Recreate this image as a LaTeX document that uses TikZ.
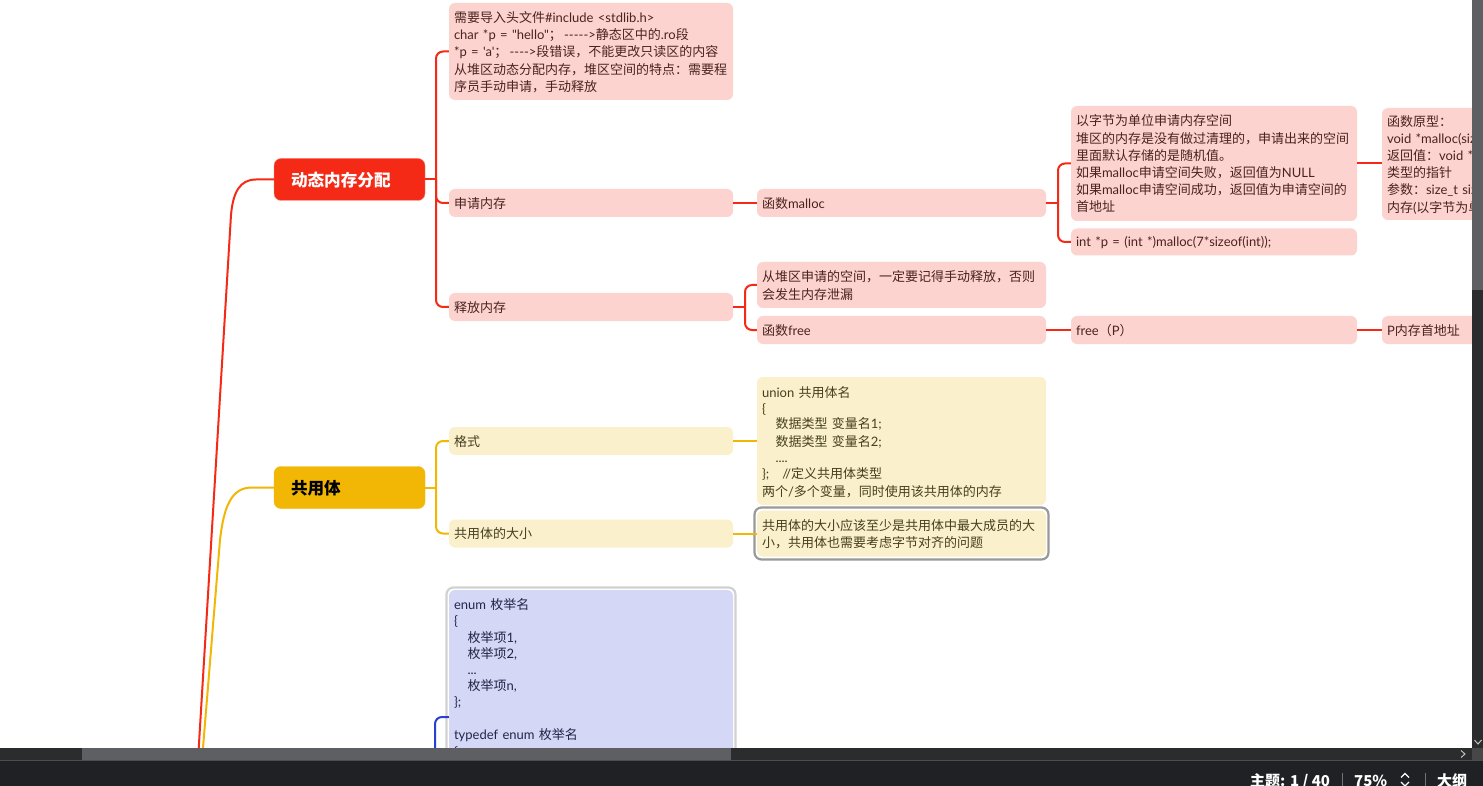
\documentclass[tikz,border=0pt]{standalone}
\usepackage{fontspec}
\newfontfamily\cjk{Noto Sans CJK SC}
\newfontfamily\latn{Lato}
% Chinese runs switch to the CJK family by themselves
\XeTeXinterchartokenstate=1
\newXeTeXintercharclass\hanclass
\newcount\chr
\chr="3000
\loop \XeTeXcharclass\chr=\hanclass \advance\chr 1 \ifnum\chr<"A000 \repeat
\chr="FF00
\loop \XeTeXcharclass\chr=\hanclass \advance\chr 1 \ifnum\chr<"FFF0 \repeat
\XeTeXinterchartoks 0 \hanclass={\cjk}
\XeTeXinterchartoks \hanclass 0={\latn}
\XeTeXinterchartoks 4095 \hanclass={\cjk}
\XeTeXinterchartoks 4095 0={\latn}
\newcommand\statusfont{\XeTeXinterchartokenstate=0\relax\cjk\bfseries\fontsize{15}{18}\selectfont}
\definecolor{memred}{HTML}{F42A16}
\definecolor{memredbg}{HTML}{FCD3CF}
\definecolor{uniamber}{HTML}{F2B705}
\definecolor{uniamberbg}{HTML}{FAF0CC}
\definecolor{enumblue}{HTML}{2A3FD0}
\definecolor{enumbluebg}{HTML}{D4D7F5}
\definecolor{memtext}{HTML}{4A2320}
\definecolor{unitext}{HTML}{46401F}
\definecolor{enumtext}{HTML}{22264A}
\definecolor{panel}{HTML}{202124}
\definecolor{track}{HTML}{2B2C2E}
\definecolor{thumb}{HTML}{5D5F63}
\tikzset{
  leaf/.style={rounded corners=6pt, inner xsep=5pt, inner ysep=0pt, align=left,
    font=\latn\fontsize{13}{17.2}\selectfont, execute at begin node={\rule{0pt}{12pt}}},
  memleaf/.style={leaf, fill=memredbg, text=memtext},
  unileaf/.style={leaf, fill=uniamberbg, text=unitext},
  enumleaf/.style={leaf, fill=enumbluebg, text=enumtext},
  wone/.style={text width=274pt},
  wtwo/.style={text width=279pt},
  wthree/.style={text width=276pt},
  wfour/.style={text width=190pt},
  topic/.style={rounded corners=7pt, minimum width=151pt, minimum height=42pt, inner xsep=17pt,
    text width=117pt, align=left, font=\cjk\bfseries\fontsize{16.6}{20}\selectfont,
    execute at begin node={\rule{0pt}{15.5pt}}},
  redline/.style={draw=memred, line width=2pt},
  amberline/.style={draw=uniamber, line width=2pt},
  blueline/.style={draw=enumblue, line width=2pt},
  status/.style={text=white, inner sep=0pt, font=\statusfont},
}
\begin{document}
\begin{tikzpicture}[x=1pt,y=-1pt]
\clip (0,0) rectangle (1483,786);
\fill[white] (0,0) rectangle (1483,786);

% topics
\node[topic, fill=memred, draw=memred!55!white, text=white] (dyn) at (349.5,179.5) {动态内存分配};
\node[topic, fill=uniamber, draw=uniamber, text=black] (uni) at (349.5,487.5) {共用体};

% dynamic memory
\node[memleaf, wone, minimum height=97pt] (intro) at (591,51.5) {需要导入头文件\#include <stdlib.h>\\
char *p = "hello"；\,----->静态区中的.ro段\\
{*}p = 'a'；\,---->段错误，不能更改只读区的内容\\
从堆区动态分配内存，堆区空间的特点：需要程\\
序员手动申请，手动释放};
\node[memleaf, wone, minimum height=28pt] (req) at (591,203) {申请内存};
\node[memleaf, wone, minimum height=28pt] (rel) at (591,307) {释放内存};
\node[memleaf, wtwo, minimum height=28pt] (mall) at (901.5,203) {函数malloc};
\node[memleaf, wthree, minimum height=115pt] (mnote) at (1214,163.5) {以字节为单位申请内存空间\\
堆区的内存是没有做过清理的，申请出来的空间\\
里面默认存储的是随机值。\\
如果malloc申请空间失败，返回值为NULL\\
如果malloc申请空间成功，返回值为申请空间的\\
首地址};
\node[memleaf, wthree, minimum height=27pt] (mcode) at (1214,242) {int *p = (int *)malloc(7*sizeof(int));};
\node[memleaf, wfour, minimum height=112pt] (proto) at (1482,164) {函数原型：\\
void *malloc(size\\
返回值：void *\\
类型的指针\\
参数：size\_t size\\
内存(以字节为单};
\node[memleaf, wtwo, minimum height=46pt] (warn) at (901.5,285) {从堆区申请的空间，一定要记得手动释放，否则\\
会发生内存泄漏};
\node[memleaf, wtwo, minimum height=28pt] (ffree) at (901.5,330) {函数free};
\node[memleaf, wthree, minimum height=28pt] (fcall) at (1214,330) {free（P）};
\node[memleaf, wfour, minimum height=28pt] (farg) at (1482,330) {P内存首地址};

% union
\node[unileaf, wone, minimum height=28pt] (fmt) at (591,441) {格式};
\node[unileaf, wone, minimum height=28pt] (size) at (591,533.5) {共用体的大小};
\node[unileaf, wtwo, minimum height=128pt] (ucode) at (901.5,441) {union 共用体名\\[-1.7pt]
\{\\[-1.7pt]
\hspace*{13.5pt}数据类型 变量名1;\\[.8pt]
\hspace*{13.5pt}数据类型 变量名2;\\[-1.2pt]
\hspace*{13.5pt}....\\[-1.2pt]
\};\quad //定义共用体类型\\[.8pt]
两个/多个变量，同时使用该共用体的内存\vspace{-2pt}};
\draw[rounded corners=7pt, draw=black!40, line width=2.2pt] (754.5,507.5) rectangle (1048.5,559.5);
\node[unileaf, wtwo, minimum height=46pt] (usize) at (901.5,533.5) {共用体的大小应该至少是共用体中最大成员的大\\
小，共用体也需要考虑字节对齐的问题};

% enum
\draw[rounded corners=7pt, draw=black!18, line width=2.2pt] (446.5,587.5) rectangle (735.5,850);
\node[enumleaf, wone, minimum height=254pt] (enum) at (591,717) {\fontsize{13}{16.2}\selectfont enum 枚举名\\
\{\\
\hspace*{13.5pt}枚举项1,\\
\hspace*{13.5pt}枚举项2,\\
\hspace*{13.5pt}...\\
\hspace*{13.5pt}枚举项n,\\
\};\\
\mbox{}\\
typedef enum 枚举名\\
\{\vspace{78pt}};

% connectors
\coordinate (root) at (198,760);
\coordinate (rootb) at (202,760);
\coordinate (dynbus) at (436,179.5);
\coordinate (unibus) at (436,487.5);
\coordinate (mbus) at (1058,203);
\coordinate (rbus) at (745,307);
\coordinate (enumbus) at (435,760);

\draw[redline] (root) -- (231,215) .. controls (233,192) and (240,179.5) .. (256,179.5) -- (dyn.west);
\draw[amberline] (rootb) -- (220,540) .. controls (224,505) and (232,487.5) .. (252,487.5) -- (uni.west);

\draw[redline] (dyn.east) -- (dynbus);
\draw[redline, rounded corners=7pt] (intro.west) -| (dynbus) |- (req.west);
\draw[redline, rounded corners=7pt] (dynbus) |- (rel.west);
\draw[redline] (mall.east) -- (mbus);
\draw[redline, rounded corners=7pt] (mnote.west) -| (mbus) |- (mcode.west);
\draw[redline] (rel.east) -- (rbus);
\draw[redline, rounded corners=7pt] (warn.west) -| (rbus) |- (ffree.west);
\foreach \a/\b in {req/mall, mnote/proto, ffree/fcall, fcall/farg}
  {\draw[redline] (\a.east) -- (\a.east -| \b.west);}

\draw[amberline] (uni.east) -- (unibus);
\draw[amberline, rounded corners=7pt] (fmt.west) -| (unibus) |- (size.west);
\foreach \a/\b in {fmt/ucode, size/usize}
  {\draw[amberline] (\a.east) -- (\b.west);}

\draw[blueline, rounded corners=7pt] (enum.west) -| (enumbus);

% window bars
\fill[track] (0,748) rectangle (1483,760);
\fill[thumb] (82,748) rectangle (731,760);
\fill[panel] (0,760) rectangle (1483,786);
\draw[black!70!white, line width=0.8pt] (0,760.5) -- (1483,760.5);
\fill[track] (1472,0) rectangle (1483,748);
\fill[thumb] (1472,0) rectangle (1483,290);
\fill[black!72!white] (1472,748) rectangle (1483,760);
\draw[white!75!black, line width=1pt] (1461,750.5) -- (1465,754) -- (1461,757.5);
\draw[white!75!black, line width=1pt] (1474.5,740) -- (1478,744) -- (1481.5,740);

% status line
\node[status, anchor=west] (topics) at (1250,781) {主题: 1 / 40};
\node[status, anchor=west] (zoomv) at (1354,781) {75\%};
\node[status, anchor=west] (outline) at (1437,781) {大纲};
\draw[black!55!white, line width=0.8pt] (1342,773) -- (1342,786) (1425,773) -- (1425,786);
\draw[white, line width=1.2pt] (1401,777.5) -- (1405,773.5) -- (1409,777.5) (1401,782) -- (1405,786) -- (1409,782);
\end{tikzpicture}
\end{document}
